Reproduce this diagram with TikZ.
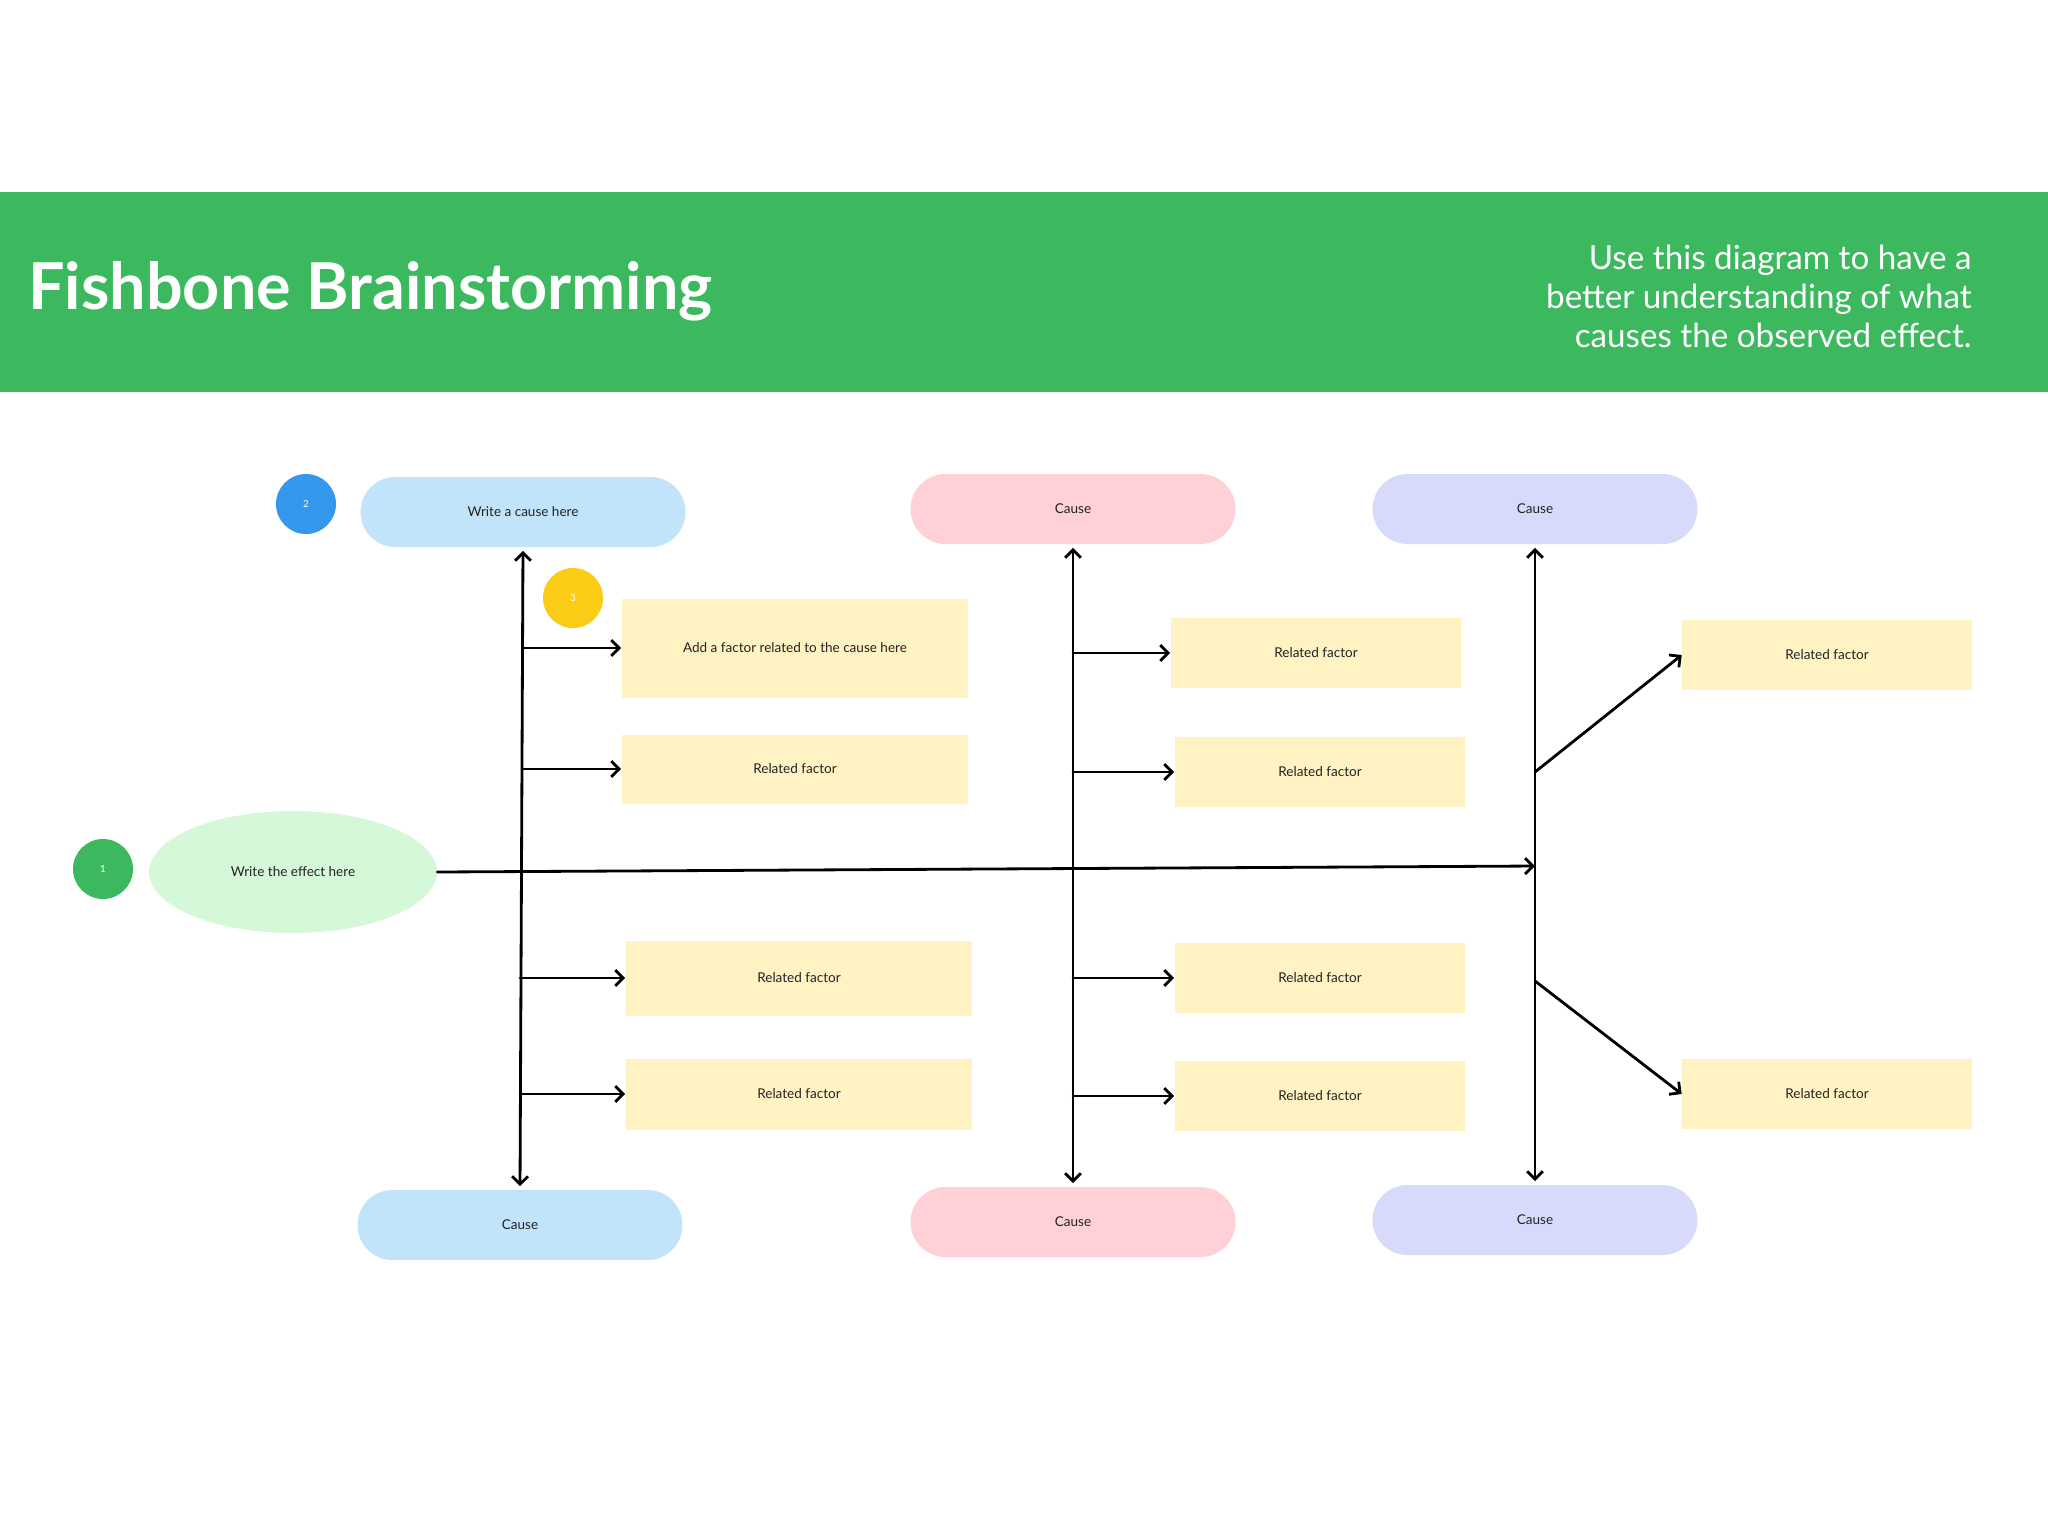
\documentclass[tikz,border=0pt]{standalone}
\usepackage{fontspec}
\setmainfont{Lato}
\usepackage{tikz}
\usetikzlibrary{shapes.geometric,arrows.meta}

\definecolor{bandgreen}{RGB}{60,185,94}
\definecolor{effectfill}{RGB}{213,248,216}
\definecolor{badgeblue}{RGB}{52,152,237}
\definecolor{badgeyellow}{RGB}{250,204,21}
\definecolor{causeblue}{RGB}{194,228,250}
\definecolor{causepink}{RGB}{255,209,215}
\definecolor{causelilac}{RGB}{216,218,251}
\definecolor{factorfill}{RGB}{255,243,196}
\definecolor{txt}{RGB}{34,34,34}

\begin{document}
\begin{tikzpicture}[x=0.02cm,y=-0.02cm,
  >={Straight Barb[length=4.5pt,width=9pt]},
  small/.style={font=\fontsize{7.7}{9}\selectfont, text=txt},
  cause/.style={small, rounded corners=0.7cm, minimum width=6.5cm, minimum height=1.4cm, inner sep=0pt},
  factor/.style={small, fill=factorfill, minimum width=6.94cm, minimum height=1.4cm, inner sep=0pt},
  badge/.style={circle, minimum size=1.2cm, inner sep=0pt, text=white, font=\fontsize{5.5}{6}\selectfont},
  bone/.style={line width=1.6pt, line cap=round}]
  \useasboundingbox (0,0) rectangle (2048,1536);
  \fill[white] (0,0) rectangle (2048,1536);

  % header
  \fill[bandgreen] (0,192) rectangle (2048,392);
  \node[anchor=west, text=white, font=\fontsize{36.8}{44}\selectfont\bfseries] (title) at (22,291) {Fishbone Brainstorming};
  \node[anchor=east, align=right, text=white, inner sep=0pt, font=\fontsize{18.9}{22.2}\selectfont] (intro) at (1972,296)
    {Use this diagram to have a\\ better understanding of what\\ causes the observed effect.};

  % effect
  \node[badge, fill=bandgreen] (n1) at (103,869) {1};
  \node[small, ellipse, fill=effectfill, minimum width=5.76cm, minimum height=2.44cm, inner sep=0pt] (effect) at (293,872) {Write the effect here};

  % causes
  \node[badge, fill=badgeblue] (n2) at (306,504) {2};
  \node[cause, fill=causeblue] (c1t) at (523,512) {Write a cause here};
  \node[cause, fill=causeblue] (c1b) at (520,1225) {Cause};
  \node[cause, fill=causepink] (c2t) at (1073,509) {Cause};
  \node[cause, fill=causepink] (c2b) at (1073,1222) {Cause};
  \node[cause, fill=causelilac] (c3t) at (1535,509) {Cause};
  \node[cause, fill=causelilac] (c3b) at (1535,1220) {Cause};

  % factors
  \node[badge, fill=badgeyellow] (n3) at (573,598) {3};
  \node[factor, minimum height=1.98cm] (f11) at (795,648) {Add a factor related to the cause here};
  \node[factor, minimum height=1.38cm] (f12) at (795,769) {Related factor};
  \node[factor, minimum height=1.5cm] (f13) at (799,978) {Related factor};
  \node[factor, minimum height=1.42cm] (f14) at (799,1094) {Related factor};
  \node[factor, minimum width=5.82cm] (f21) at (1316,653) {Related factor};
  \node[factor, minimum width=5.82cm] (f22) at (1320,772) {Related factor};
  \node[factor, minimum width=5.82cm] (f23) at (1320,978) {Related factor};
  \node[factor, minimum width=5.82cm] (f24) at (1320,1096) {Related factor};
  \node[factor, minimum width=5.8cm] (f31) at (1827,655) {Related factor};
  \node[factor, minimum width=5.8cm] (f32) at (1827,1094) {Related factor};

  % spine and bones
  \coordinate (head) at (1535,866);
  \draw[bone,->] (effect.east) -- (head);
  \draw[bone,<->, shorten <=2pt, shorten >=2pt] (c1t.south) -- (c1b.north);
  \draw[bone,<->, shorten <=2pt, shorten >=2pt] (c2t.south) -- (c2b.north);
  \draw[bone,<->, shorten <=2pt, shorten >=2pt] (c3t.south) -- (c3b.north);

  \draw[bone,->] (f11.west -| c1t.south) -- (f11.west);
  \draw[bone,->] (f12.west -| c1t.south) -- (f12.west);
  \draw[bone,->] (f13.west -| c1b.north) -- (f13.west);
  \draw[bone,->] (f14.west -| c1b.north) -- (f14.west);
  \draw[bone,->] (f21.west -| c2t.south) -- (f21.west);
  \draw[bone,->] (f22.west -| c2t.south) -- (f22.west);
  \draw[bone,->] (f23.west -| c2b.north) -- (f23.west);
  \draw[bone,->] (f24.west -| c2b.north) -- (f24.west);

  \coordinate (k1) at (1535,772);
  \coordinate (k2) at (1535,981);
  \draw[bone,->] (k1) -- (f31.west);
  \draw[bone,->] (k2) -- (f32.west);
\end{tikzpicture}
\end{document}
